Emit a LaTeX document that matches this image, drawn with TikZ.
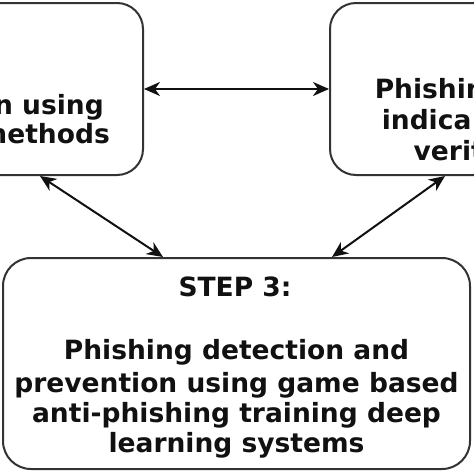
\documentclass[tikz,border=0pt]{standalone}
\usepackage{fontspec}
\setmainfont{DejaVu Sans}
\usetikzlibrary{arrows.meta}
\definecolor{edge}{HTML}{333333}
\definecolor{ink}{HTML}{111111}
\tikzset{
  box/.style={draw=edge, line width=2pt, rounded corners=26pt, fill=white, inner sep=0pt},
  txt/.style={inner sep=0pt, text=ink, font=\fontsize{26.5}{31}\selectfont\bfseries},
  link/.style={draw=ink, line width=2pt, {Stealth[length=16pt,width=14pt,inset=5pt]}-{Stealth[length=16pt,width=14pt,inset=5pt]}}
}
\begin{document}
\begin{tikzpicture}[x=1pt,y=-1pt]
\useasboundingbox (0,0) rectangle (474,474);
\clip (0,0) rectangle (474,474);
\fill[white] (0,0) rectangle (474,474);
% boxes
\node[box, minimum width=193pt, minimum height=172pt] (b1) at (46.5,89) {};
\node[box, minimum width=200pt, minimum height=172pt] (b2) at (430,89) {};
\node[box, rounded corners=28pt, minimum width=467pt, minimum height=211pt] (b3) at (236.5,363.5) {};
% left box text
\node[txt, anchor=base east] (l1) at (104,114) {n using};
\node[txt, anchor=base east] (l2) at (110,143) {methods};
% right box text
\node[txt, anchor=base west] (r1) at (374.6,98) {Phishin};
\node[txt, anchor=base west] (r2) at (381.6,129) {indica};
\node[txt, anchor=base west] (r3) at (413.5,160) {verit};
% bottom box text
\node[txt, anchor=base] (s0) at (235,296) {STEP 3:};
\node[txt, anchor=base] (s1) at (236.5,359) {Phishing detection and};
\node[txt, anchor=base] (s2) at (236.5,392) {prevention using game based};
\node[txt, anchor=base] (s3) at (236.5,422) {anti-phishing training deep};
\node[txt, anchor=base] (s4) at (236.5,452) {learning systems};
% connectors
\draw[link] (b1.east) -- (b2.west);
\draw[link] ([xshift=-6.5pt]b1.south) -- ([xshift=-73.5pt]b3.north);
\draw[link] ([xshift=15pt]b2.south) -- ([xshift=95.5pt]b3.north);
\end{tikzpicture}
\end{document}
